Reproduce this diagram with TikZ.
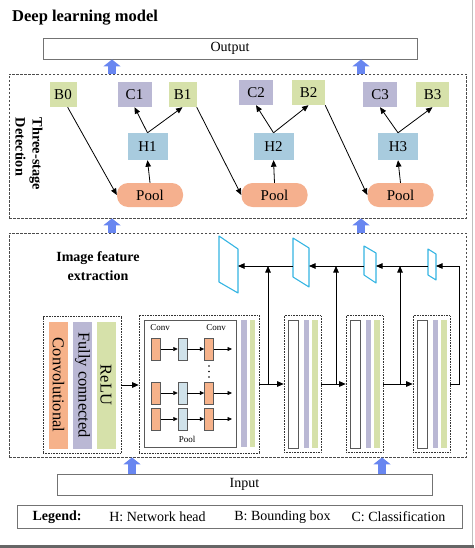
\documentclass[tikz,border=0pt]{standalone}
\usepackage{fontspec}
\setmainfont{Liberation Serif}
\usetikzlibrary{arrows.meta}

\begin{document}
\begin{tikzpicture}[x=1pt,y=-1pt,
    txt/.style={inner sep=0pt,font=\fontsize{14}{16}\selectfont},
    lbl/.style={inner sep=0pt,font=\fontsize{15}{17}\selectfont},
    bbox/.style={lbl,fill=boxgreen,minimum width=33pt,minimum height=25pt},
    cbox/.style={lbl,fill=boxpurple,minimum width=34pt,minimum height=25pt},
    hbox/.style={lbl,fill=boxblue,minimum width=40pt,minimum height=27pt},
    poolbox/.style={lbl,fill=poolorange,rounded corners=11pt,minimum width=66pt,minimum height=24pt},
    framebox/.style={txt,draw=black!55,line width=0.9pt},
    dashbox/.style={draw=black!70,line width=0.8pt,dash pattern=on 2.5pt off 1.5pt,inner sep=0pt},
    dotbox/.style={draw=black!80,line width=0.6pt,dash pattern=on 0.8pt off 0.8pt,inner sep=0pt},
    barbox/.style={inner sep=0pt,rotate=-90,minimum width=127pt,minimum height=19pt,
        font=\fontsize{16.5}{18}\selectfont},
    cell/.style={draw=black!65,line width=0.5pt,inner sep=0pt,minimum width=9pt,minimum height=22pt},
    link/.style={line width=0.8pt,-{Triangle[length=6.5pt,width=5.5pt]}},
    smalllink/.style={line width=0.6pt,-{Triangle[length=4.5pt,width=4pt]}},
    uparrow/.style={draw=arrowblue,line width=8pt,-{Triangle[length=7pt,width=17pt]}},
    fmap/.style={draw=mapcyan,line width=1.1pt,line join=round}]
    \definecolor{boxgreen}{RGB}{214,225,170}
    \definecolor{boxpurple}{RGB}{186,184,212}
    \definecolor{boxblue}{RGB}{168,203,222}
    \definecolor{poolorange}{RGB}{245,176,142}
    \definecolor{barorange}{RGB}{246,178,138}
    \definecolor{cellblue}{RGB}{208,226,234}
    \definecolor{arrowblue}{RGB}{104,134,240}
    \definecolor{mapcyan}{RGB}{52,180,226}

    \useasboundingbox (0,0) rectangle (474,548);

    % page edges
    \draw[black!25,line width=1.5pt] (472.5,0)--(472.5,545);
    \fill[black!60] (0,545) rectangle (474,548);

    % title and output
    \node[anchor=west,inner sep=0pt,font=\fontsize{16.5}{18}\selectfont\bfseries]
        (title) at (12,18) {Deep learning model};
    \node[framebox,minimum width=374pt,minimum height=21pt] (output) at (230,48.5) {Output};

    % three-stage detection
    \node[dashbox,minimum width=457pt,minimum height=144pt] (det) at (237.5,146) {};
    \node[inner sep=0pt,rotate=-90,align=left,font=\fontsize{14.3}{17}\selectfont\bfseries]
        (detlbl) at (29,154) {Three-stage\\Detection};

    \node[bbox,minimum width=27pt] (B0) at (63,94.5) {B0};
    \node[cbox] (C1) at (134.5,94.5) {C1};
    \node[bbox,minimum width=28pt] (B1) at (182.5,94.5) {B1};
    \node[cbox] (C2) at (256,92.5) {C2};
    \node[bbox] (B2) at (308.5,92.5) {B2};
    \node[cbox] (C3) at (380,94.5) {C3};
    \node[bbox] (B3) at (432.5,94.5) {B3};

    \node[hbox] (H1) at (147.5,146.5) {H1};
    \node[hbox] (H2) at (273.5,146.5) {H2};
    \node[hbox] (H3) at (398,146.5) {H3};

    \node[poolbox] (P1) at (150,195) {Pool};
    \node[poolbox] (P2) at (274.5,195) {Pool};
    \node[poolbox] (P3) at (400.5,195) {Pool};

    \foreach \i/\b/\c in {1/B1/C1,2/B2/C2,3/B3/C3} {
        \draw[link] (P\i.north) -- (H\i.south);
        \draw[link] (H\i.north) -- (\c.south);
        \draw[link] (H\i.north) -- (\b.south);
    }
    \draw[link] (B0.-70) -- (P1.west);
    \draw[link] (B1.south east) -- (P2.west);
    \draw[link] (B2.south east) -- (P3.west);

    % image feature extraction
    \node[dashbox,minimum width=457pt,minimum height=224pt] (feat) at (237.5,345) {};
    \node[inner sep=0pt,align=center,font=\fontsize{14}{19}\selectfont\bfseries]
        (featlbl) at (98,266) {Image feature\\extraction};

    % layer stack
    \node[dotbox,minimum width=78pt,minimum height=137pt] (stack) at (82,385) {};
    \node[barbox,fill=barorange] (convbar) at (58.5,385) {Convolutional};
    \node[barbox,fill=boxpurple] (fcbar) at (82.5,385) {Fully connected};
    \node[barbox,fill=boxgreen] (relubar) at (106,385) {ReLU};

    % first conv block
    \node[dotbox,minimum width=120pt,minimum height=138pt] (blk1) at (199,384) {};
    \draw[black!65,line width=0.7pt,fill=white] (144,320) rectangle (236,447);
    \fill[boxpurple] (241,320) rectangle (247,447);
    \fill[boxgreen] (250,320) rectangle (255,447);
    \node[inner sep=0pt,font=\fontsize{9}{10}\selectfont] (conva) at (160,328) {Conv};
    \node[inner sep=0pt,font=\fontsize{9}{10}\selectfont] (convb) at (216,328) {Conv};
    \node[inner sep=0pt,font=\fontsize{9}{10}\selectfont] (cpool) at (187,439) {Pool};
    \foreach \r/\y in {1/349,2/393,3/419} {
        \node[cell,fill=barorange] (oa\r) at (156,\y) {};
        \node[cell,fill=cellblue] (ob\r) at (182.5,\y) {};
        \node[cell,fill=barorange] (oc\r) at (209,\y) {};
        \coordinate (out\r) at (232,\y);
        \draw[smalllink] (oa\r) -- (ob\r);
        \draw[smalllink] (ob\r) -- (oc\r);
        \draw[smalllink] (oc\r) -- (out\r);
    }
    \foreach \y in {366,371.5,377}
        \fill (209,\y) circle (0.8pt);

    % further blocks
    \foreach \x/\n in {284/2,346/3,413/4} {
        \node[dotbox,minimum width=37pt,minimum height=137pt] (blk\n) at (\x+18.5,384) {};
        \draw[black!65,line width=0.7pt,fill=white] (\x+4,320) rectangle (\x+14,448);
        \fill[boxpurple] (\x+20,320) rectangle (\x+25,448);
        \fill[boxgreen] (\x+28,320) rectangle (\x+34,448);
    }

    % feature maps
    \draw[fmap] (219,236)--(238,249)--(238,293)--(219,282)--cycle;
    \draw[fmap] (293,238)--(309,248)--(309,287)--(293,277)--cycle;
    \draw[fmap] (364,246)--(376,253)--(376,283)--(364,275)--cycle;
    \draw[fmap] (428,249)--(436,254)--(436,280)--(428,275)--cycle;
    \coordinate (f1r) at (238,266);
    \coordinate (f2l) at (293,266);
    \coordinate (f2r) at (309,266);
    \coordinate (f3l) at (364,266);
    \coordinate (f3r) at (376,266);
    \coordinate (f4l) at (428,266);
    \coordinate (f4r) at (436,266);

    % connections
    \draw[link] (stack.east) -- (stack.east -| blk1.west);
    \draw[link] (blk1.east) -- (blk2.west);
    \draw[link] (blk2.east) -- (blk3.west);
    \draw[link] (blk3.east) -- (blk4.west);
    \coordinate (j1) at (268,384);
    \coordinate (j2) at (336,384);
    \coordinate (j3) at (400,384);
    \draw[link] (j1) -- (j1 |- f1r);
    \draw[link] (j2) -- (j2 |- f2r);
    \draw[link] (j3) -- (j3 |- f3r);
    \draw[link] (f2l) -- (f1r);
    \draw[link] (f3l) -- (f2r);
    \draw[link] (f4l) -- (f3r);
    \draw[link] (blk4.east) -- ++(9,0) |- (f4r);

    % input and legend
    \node[framebox,minimum width=375pt,minimum height=21pt] (input) at (244.5,484.5) {Input};
    \node[framebox,minimum width=445pt,minimum height=23pt] (legend) at (239.5,516.5) {};
    \node[txt,font=\fontsize{14}{16}\selectfont\bfseries] (lgkey) at (57,517) {Legend:};
    \node[txt] (lgh) at (157.5,517) {H: Network head};
    \node[txt] (lgb) at (282.5,517) {B: Bounding box};
    \node[txt] (lgc) at (398.5,517) {C: Classification};

    % blue arrows
    \foreach \x in {112,361} {
        \draw[uparrow] (det.north -| \x,0) -- (output.south -| \x,0);
        \draw[uparrow] (feat.north -| \x,0) -- (det.south -| \x,0);
    }
    \foreach \x in {132,382}
        \draw[uparrow] (input.north -| \x,0) -- (feat.south -| \x,0);
\end{tikzpicture}
\end{document}
